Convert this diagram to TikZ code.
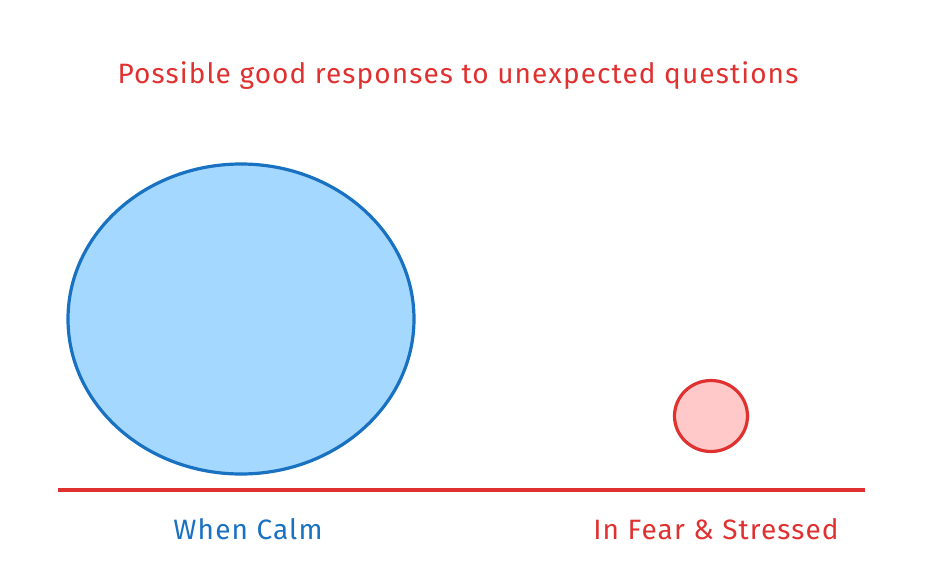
\documentclass[tikz,border=0pt]{standalone}
\usepackage{fontspec}
\setmainfont{Fira Sans}
\usepackage{xcolor}
\usepackage{tikz}
\usetikzlibrary{positioning,calc,shapes.geometric}

\definecolor{calmfill}{HTML}{A5D8FF}
\definecolor{calmline}{HTML}{1971C2}
\definecolor{fearfill}{HTML}{FFC9C9}
\definecolor{fearline}{HTML}{E03131}

\begin{document}
\begin{tikzpicture}[x=1pt,y=-1pt,
    label text/.style={font=\fontsize{28}{32}\selectfont\addfontfeature{LetterSpace=4}},
    blob/.style={ellipse,line width=3.2pt,inner sep=0pt}]
  \useasboundingbox (0,0) rectangle (938,584);
  \node[label text,text=fearline] (title) at (458,76) {Possible good responses to unexpected questions};
  % the two blobs sit on the ground line
  \node[blob,draw=calmline,fill=calmfill,minimum width=346pt,minimum height=310pt] (calm) at (241,319) {};
  \node[blob,draw=fearline,fill=fearfill,minimum width=73pt,minimum height=71pt] (fear) at (711,416) {};
  \coordinate (groundL) at (58,490);
  \coordinate (groundR) at (865,490);
  \draw[fearline,line width=4pt] (groundL) -- (groundR);
  \node[label text,text=calmline] (calmlbl) at (248,529) {When Calm};
  \node[label text,text=fearline] (fearlbl) at (716,529) {In Fear \& Stressed};
\end{tikzpicture}
\end{document}
